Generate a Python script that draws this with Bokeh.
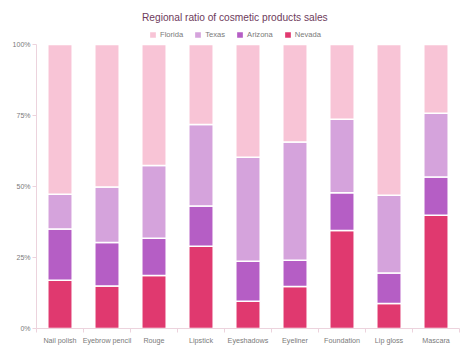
from bokeh.plotting import figure
from bokeh.models import (Range1d, FixedTicker, Legend, LegendItem, Label,
                          ColumnDataSource, PrintfTickFormatter)
from bokeh.embed import file_html
from bokeh.resources import INLINE

categories = ["Nail polish", "Eyebrow pencil", "Rouge", "Lipstick", "Eyeshadows",
              "Eyeliner", "Foundation", "Lip gloss", "Mascara"]
nevada = [17.0, 15.0, 18.7, 29.0, 9.6, 14.8, 34.5, 8.8, 39.9]
arizona = [18.0, 15.3, 13.1, 14.1, 14.1, 9.2, 13.3, 10.7, 13.4]
texas = [12.3, 19.5, 25.6, 28.7, 36.6, 41.7, 25.9, 27.4, 22.5]
florida = [52.7, 50.2, 42.6, 28.2, 39.7, 34.3, 26.3, 53.1, 24.2]
y_ticks = [0, 25, 50, 75, 100]

series_names = ["Nevada", "Arizona", "Texas", "Florida"]
colors = ["#e0396f", "#b55ec5", "#d5a3dc", "#f8c4d6"]

FONT = "Liberation Sans"
AXIS_COLOR = "#ecd3dd"
LABEL_COLOR = "#7a7a7a"

xs = [i + 0.5 for i in range(len(categories))]
src = ColumnDataSource(dict(x=xs, Nevada=nevada, Arizona=arizona, Texas=texas, Florida=florida))

p = figure(width=474, height=355, output_backend="svg", toolbar_location=None,
           x_range=Range1d(0, len(categories)), y_range=Range1d(0, 115.49),
           min_border_left=36, min_border_right=15, min_border_top=0, min_border_bottom=27)
p.outline_line_color = None
p.xgrid.grid_line_color = None
p.ygrid.grid_line_color = None
p.background_fill_color = "white"

rs = p.vbar_stack(series_names, x="x", width=0.52, color=colors, source=src,
                  line_color="white", line_width=1.5)

# x axis
p.xaxis.ticker = FixedTicker(ticks=xs, minor_ticks=list(range(len(categories) + 1)))
p.xaxis.major_label_overrides = {x: c for x, c in zip(xs, categories)}
p.xaxis.major_tick_line_color = None
p.xaxis.major_tick_out = 4
p.xaxis.major_tick_in = 0
p.xaxis.minor_tick_line_color = AXIS_COLOR
p.xaxis.minor_tick_out = 4
p.xaxis.minor_tick_in = 0
p.xaxis.axis_line_color = AXIS_COLOR
p.xaxis.major_label_text_font = FONT
p.xaxis.major_label_text_font_size = "7.2px"
p.xaxis.major_label_text_color = LABEL_COLOR
p.xaxis.major_label_standoff = 3

# y axis
p.yaxis.ticker = FixedTicker(ticks=y_ticks)
p.yaxis.formatter = PrintfTickFormatter(format="%d%%")
p.yaxis.bounds = (0, 100)
p.yaxis.axis_line_color = AXIS_COLOR
p.yaxis.major_tick_line_color = AXIS_COLOR
p.yaxis.major_tick_out = 4
p.yaxis.major_tick_in = 0
p.yaxis.minor_tick_line_color = None
p.yaxis.major_label_text_font = FONT
p.yaxis.major_label_text_font_size = "7px"
p.yaxis.major_label_text_color = LABEL_COLOR
p.yaxis.major_label_standoff = 2

# title
p.add_layout(Label(x=4.22, y=109.5, text="Regional ratio of cosmetic products sales",
                   text_align="center", text_baseline="middle", text_font=FONT,
                   text_font_size="10.2px", text_color="#6e3b5c"))

# credit
p.add_layout(Label(x=9.22, y=-7.0, text="AnyChart", text_align="right",
                   text_baseline="middle", text_font=FONT, text_font_size="6.5px",
                   text_color="#a8a8a8"))

# legend
items = [LegendItem(label=n, renderers=[r]) for n, r in zip(series_names, rs)][::-1]
legend = Legend(items=items, orientation="horizontal", location=(112, 289.5),
                padding=0, margin=0, spacing=10, label_standoff=3,
                glyph_width=9, glyph_height=9, label_height=9, label_width=0,
                label_text_font=FONT, label_text_font_size="7.6px",
                label_text_color=LABEL_COLOR, border_line_color=None,
                background_fill_alpha=0)
p.add_layout(legend)

open("out.html", "w").write(file_html(p, INLINE))
